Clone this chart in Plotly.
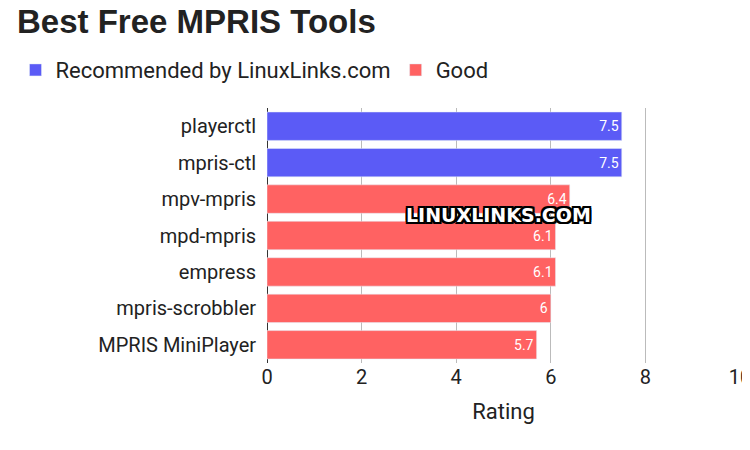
import plotly.graph_objects as go

tools = ["playerctl", "mpris-ctl", "mpv-mpris", "mpd-mpris", "empress", "mpris-scrobbler", "MPRIS MiniPlayer"]
ratings = [7.5, 7.5, 6.4, 6.1, 6.1, 6.0, 5.7]
groups = ["Recommended by LinuxLinks.com"] * 2 + ["Good"] * 5
colors = {"Recommended by LinuxLinks.com": "#5b5bf6", "Good": "#ff6262"}

fig = go.Figure()
for g in ["Recommended by LinuxLinks.com", "Good"]:
    ys = [t for t, gg in zip(tools, groups) if gg == g]
    xs = [r for r, gg in zip(ratings, groups) if gg == g]
    fig.add_trace(go.Bar(
        y=ys, x=xs, name=g, orientation="h", marker_color=colors[g],
        text=[f"{v:g}" for v in xs], textposition="inside", insidetextanchor="end",
        textfont=dict(color="white", size=14, family="Roboto"), width=0.78,
    ))

fig.update_layout(
    width=750, height=450, barmode="overlay",
    margin=dict(l=259, r=18, t=100, b=95, autoexpand=False),
    paper_bgcolor="white", plot_bgcolor="white",
    font=dict(family="Roboto", size=20, color="#222"),
    title=dict(text="<b>Best Free MPRIS Tools</b>", x=0.012, y=0.995, xanchor="left", yanchor="top",
               xref="container", yref="container",
               font=dict(size=33, color="#222", family="Liberation Sans")),
    legend=dict(orientation="h", x=0.01, y=0.862, xref="container", yref="container",
                xanchor="left", yanchor="middle", font=dict(size=22), traceorder="normal",
                itemwidth=30),
    xaxis=dict(range=[0, 10], dtick=2, showgrid=True, gridcolor="#bbb", gridwidth=1,
               zeroline=True, zerolinecolor="#333", zerolinewidth=1, layer="above traces",
               automargin=False,
               title=dict(text="Rating", font=dict(size=22)), tickfont=dict(size=20)),
    yaxis=dict(categoryorder="array", categoryarray=tools[::-1], tickfont=dict(size=20),
               ticksuffix="  ", automargin=False),
    uniformtext=dict(mode="show", minsize=10),
)
fig.add_annotation(text="<b>LINUXLINKS.COM</b>", xref="paper", yref="paper",
                   x=0.29, y=0.58, showarrow=False,
                   font=dict(size=19, color="white", family="DejaVu Sans",
                             shadow="2px 2px 0 #000, -2px -2px 0 #000, 2px -2px 0 #000, -2px 2px 0 #000, 0 2px 0 #000, 0 -2px 0 #000, 2px 0 0 #000, -2px 0 0 #000"))
fig.write_html("out.html")
